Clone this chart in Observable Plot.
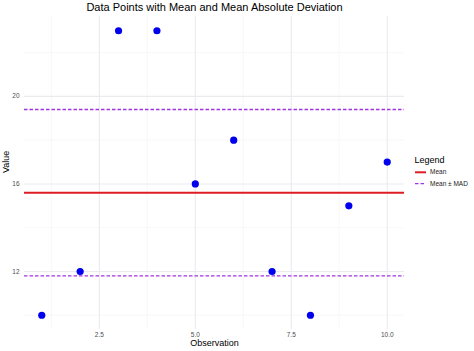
<!DOCTYPE html>
<html>
<head>
<meta charset="utf-8">
<script src="https://cdn.jsdelivr.net/npm/d3@7"></script>
<script src="https://cdn.jsdelivr.net/npm/@observablehq/plot@0.6"></script>
<style>
  html, body { margin: 0; padding: 0; background: #fff; }
  svg { display: block; }
</style>
</head>
<body>
<div id="chart"></div>
<script>
const observations = [1, 2, 3, 4, 5, 6, 7, 8, 9, 10];
const values = [10, 12, 23, 23, 16, 18, 12, 10, 15, 17];
const xTicks = [2.5, 5.0, 7.5, 10.0];
const xTickLabels = ["2.5", "5.0", "7.5", "10.0"];
const xMinor = [1.25, 3.75, 6.25, 8.75];
const yTicks = [12, 16, 20];
const yMinor = [10, 14, 18, 22];
const legendLabels = ["Mean", "Mean \u00b1 MAD"];

const points = observations.map((o, i) => ({x: o, y: values[i]}));
const meanVal = d3.mean(values);
const mad = d3.mean(values, v => Math.abs(v - meanVal));
const lowerBand = [meanVal - mad];
const upperBand = [meanVal + mad];

const font = "Liberation Sans, Arial, sans-serif";
const meanColor = "#dd1c24";
const madColor = "#a233e0";

const plot = Plot.plot({
  width: 474,
  height: 351,
  marginTop: 16,
  marginBottom: 22,
  marginLeft: 24,
  marginRight: 70,
  style: {fontFamily: font, background: "#fff"},
  x: {domain: [0.55, 10.45], axis: null},
  y: {domain: [9.35, 23.65], axis: null},
  marks: [
    Plot.ruleX(xMinor, {stroke: "#f3f3f5", strokeWidth: 0.6}),
    Plot.ruleY(yMinor, {stroke: "#f3f3f5", strokeWidth: 0.6}),
    Plot.ruleX(xTicks, {stroke: "#ebebef", strokeWidth: 1.1}),
    Plot.ruleY(yTicks, {stroke: "#ebebef", strokeWidth: 1.1}),
    Plot.ruleY([meanVal], {stroke: meanColor, strokeWidth: 2}),
    Plot.ruleY(lowerBand, {stroke: madColor, strokeWidth: 1.3, strokeDasharray: "3.5,2"}),
    Plot.ruleY(upperBand, {stroke: madColor, strokeWidth: 1.3, strokeDasharray: "3.5,2"}),
    Plot.dot(points, {x: "x", y: "y", r: 3.6, fill: "#0000ee", stroke: "none"}),
    Plot.text(xTicks, {x: d => d, frameAnchor: "bottom", lineAnchor: "middle", dy: 5.5, text: (d, i) => xTickLabels[i], fill: "#4d4d4d", fontSize: 6.5}),
    Plot.text(yTicks, {y: d => d, frameAnchor: "left", dx: -5, textAnchor: "end", text: d => String(d), fill: "#4d4d4d", fontSize: 6.5}),
    Plot.text(["Data Points with Mean and Mean Absolute Deviation"], {frameAnchor: "top", lineAnchor: "middle", dy: -9, text: d => d, fontSize: 11, fill: "#000"}),
    Plot.text(["Observation"], {frameAnchor: "bottom", lineAnchor: "middle", dy: 13.5, text: d => d, fontSize: 9, fill: "#000"}),
    Plot.text(["Value"], {frameAnchor: "left", dx: -18, rotate: -90, text: d => d, fontSize: 9, fill: "#000"}),
    Plot.text(["Legend"], {frameAnchor: "top-right", lineAnchor: "middle", dx: 10, dy: 143.3, textAnchor: "start", text: d => d, fontSize: 9, fill: "#000"})
  ]
});

document.getElementById("chart").appendChild(plot);

const svg = d3.select(plot);
const legendG = svg.append("g").attr("font-family", font).attr("text-anchor", "start");
const lx = 415, ly0 = 172.3;
legendLabels.forEach((lab, i) => {
  const y = ly0 + i * 11.4;
  legendG.append("line").attr("x1", lx).attr("x2", lx + 11).attr("y1", y).attr("y2", y)
    .attr("stroke", i === 0 ? meanColor : madColor)
    .attr("stroke-width", i === 0 ? 2 : 1.2)
    .attr("stroke-dasharray", i === 0 ? null : "3.5,2");
  legendG.append("text").attr("x", lx + 15).attr("y", y).attr("dy", "0.32em")
    .attr("text-anchor", "start")
    .attr("font-size", 6.5).attr("fill", "#1a1a1a").text(lab);
});
</script>
</body>
</html>
